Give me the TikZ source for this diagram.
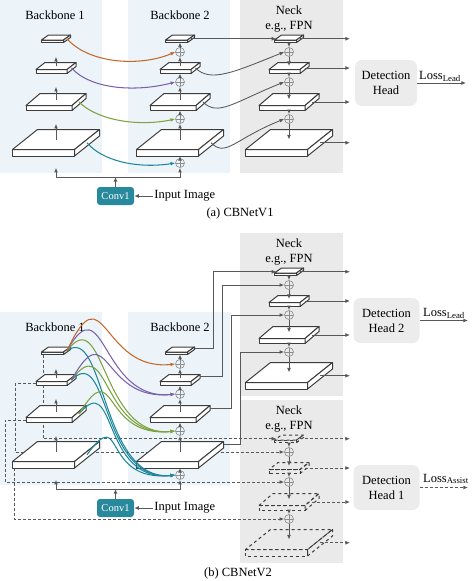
\documentclass[tikz,border=0pt]{standalone}
\usepackage{fontspec}
\setmainfont{Liberation Serif}
\usetikzlibrary{arrows.meta,positioning}

\definecolor{bbblue}{RGB}{236,244,250}
\definecolor{neckgray}{RGB}{234,234,234}
\definecolor{headgray}{RGB}{236,236,236}
\definecolor{convteal}{RGB}{40,137,157}
\definecolor{lineg}{RGB}{88,88,88}
\definecolor{slabg}{RGB}{60,60,60}
\definecolor{plusg}{RGB}{140,140,140}
\definecolor{cOrange}{RGB}{196,104,40}
\definecolor{cPurple}{RGB}{122,98,170}
\definecolor{cGreen}{RGB}{124,163,62}
\definecolor{cTeal}{RGB}{30,134,155}

\pgfdeclarelayer{panel}
\pgfdeclarelayer{wire}
\pgfsetlayers{panel,wire,main}

\tikzset{
  lbl/.style={font=\fontsize{12.5}{15}\selectfont, inner sep=1pt},
  slabline/.style={draw=slabg, line width=1pt, fill=white, line join=round},
  conn/.style={draw=lineg, line width=0.85pt, -{Latex[length=4.6pt,width=3.8pt]}},
  dconn/.style={conn, dash pattern=on 3pt off 2pt},
  curve/.style={conn, draw=#1, line width=1.05pt},
  oplus/.style={circle, draw=plusg, line width=0.6pt, minimum size=9pt, inner sep=0pt,
    path picture={\draw[plusg, line width=0.6pt]
      (path picture bounding box.north) -- (path picture bounding box.south)
      (path picture bounding box.west) -- (path picture bounding box.east);}},
  head/.style={lbl, fill=headgray, rounded corners=7pt, minimum width=62pt,
    minimum height=46pt, align=center},
  convbox/.style={fill=convteal, text=white, rounded corners=3pt, minimum width=37pt,
    minimum height=18pt, inner sep=1pt, font=\fontsize{10.5}{12}\selectfont},
}

% one feature map: [style]{name}{centre x}{front bottom y}{width}{depth x}{depth y}{thickness}
\newcommand{\slab}[8][]{%
  \pgfmathsetmacro\slabx{#3-#5/2-#6/2}%
  \draw[slabline,#1] (\slabx,#4) rectangle ++(#5,-#8);
  \draw[slabline,#1] (\slabx,#4-#8) -- ++(#5,0) -- ++(#6,-#7) -- ++(-#5,0) -- cycle;
  \draw[slabline,#1] (\slabx+#5,#4) -- ++(#6,-#7) -- ++(0,-#8) -- ++(-#6,#7) -- cycle;
  \coordinate (#2-t) at (#3,#4-#8-#7/2);
  \coordinate (#2-b) at (#3,#4);
  \coordinate (#2-r) at (\slabx+#5+#6/2,#4-#8/2-#7/2);
  \coordinate (#2-e) at (\slabx+#5+#6,#4-#8/2-#7);
  \coordinate (#2-w) at (\slabx+#6/4,#4-#8/2-#7/2);
  \coordinate (#2-l) at (\slabx,#4-#8/2);
  \coordinate (#2-bl) at (\slabx+1.5,#4);
}

% the four levels of one column: [style]{prefix}{centre x}{y shift}
\newcommand{\slabcol}[4][]{%
  \slab[#1]{#2-1}{#3}{42.5+#4}{22}{7}{5}{2.5}
  \slab[#1]{#2-2}{#3}{73.5+#4}{31}{9}{7}{4}
  \slab[#1]{#2-3}{#3}{110.5+#4}{46}{14}{12}{5}
  \slab[#1]{#2-4}{#3}{156+#4}{62}{25}{20}{6.5}
}

\begin{document}
\begin{tikzpicture}[x=1pt, y=-1pt]
\useasboundingbox (0,0) rectangle (474,581);

%% (a) CBNetV1
\begin{pgfonlayer}{panel}
  \fill[bbblue] (0,0) rectangle (102,173);
  \fill[bbblue] (128,0) rectangle (230,173);
  \fill[neckgray] (240,0) rectangle (343,173);
\end{pgfonlayer}
\node[lbl] (bb1-a) at (55,15) {Backbone 1};
\node[lbl] (bb2-a) at (180,15) {Backbone 2};
\node[lbl, align=center] (neck-a) at (289,19.5) {Neck\\e.g., FPN};

\slabcol{B1a}{56}{0}
\slabcol{B2a}{180}{0}
\slabcol{Na}{289}{0}

\foreach \i/\y in {1/52,2/82,3/119,4/163}
  \node[oplus] (B2a-p\i) at (180,\y) {};
\foreach \i/\y in {1/52,2/82,3/119}
  \node[oplus] (Na-p\i) at (289,\y) {};

% bottom-up paths
\draw[conn] (B1a-4-t) -- (B1a-4-t |- B2a-p3.south);
\draw[conn] (B1a-3-t) -- (B1a-3-t |- B2a-p2.south);
\draw[conn] (B1a-2-t) -- (B1a-2-t |- B2a-p1.south);
\draw[conn] (B2a-p4) -- (B2a-4-b);
\draw[conn] (B2a-4-t) -- (B2a-p3);
\draw[conn] (B2a-p3) -- (B2a-3-b);
\draw[conn] (B2a-3-t) -- (B2a-p2);
\draw[conn] (B2a-p2) -- (B2a-2-b);
\draw[conn] (B2a-2-t) -- (B2a-p1);
\draw[conn] (B2a-p1) -- (B2a-1-b);

% composition backbone 1 -> backbone 2
\draw[curve=cOrange] (B1a-1-r) .. controls +(22,25) and +(-35,15) .. (B2a-p1.west);
\draw[curve=cPurple] (B1a-2-r) .. controls +(20,22) and +(-38,10) .. (B2a-p2.west);
\draw[curve=cGreen] (B1a-3-r) .. controls +(18,18) and +(-38,8) .. (B2a-p3.west);
\draw[curve=cTeal] (B1a-4-r) .. controls +(15,18) and +(-38,6) .. (B2a-p4.west);

% neck
\draw[conn] (B2a-1-r) -- (B2a-1-r -| Na-1-w);
\draw[conn] (B2a-2-r) .. controls +(15,15) and +(-50,20) .. (Na-p1.west);
\draw[conn] (B2a-3-r) .. controls +(15,15) and +(-50,20) .. (Na-p2.west);
\draw[conn] (B2a-4-r) .. controls +(15,15) and +(-50,20) .. (Na-p3.west);
\draw[conn] (Na-1-b) -- (Na-p1);
\draw[conn] (Na-p1) -- (Na-2-t);
\draw[conn] (Na-2-b) -- (Na-p2);
\draw[conn] (Na-p2) -- (Na-3-t);
\draw[conn] (Na-3-b) -- (Na-p3);
\draw[conn] (Na-p3) -- (Na-4-t);
\coordinate (outx) at (350,0);
\foreach \i in {1,...,4}
  \draw[conn] (Na-\i-r) -- (Na-\i-r -| outx);

\node[head] (head-a) at (386,83) {Detection\\Head};
\node[lbl] (loss-a) at (440,76) {Loss\textsubscript{Lead}};
\coordinate (lend-a) at (466,83);
\draw[conn] (head-a) -- (lend-a);

% stem
\node[convbox] (conv-a) at (115.5,196) {Conv1};
\node[lbl, right=19pt of conv-a] (img-a) {Input Image};
\draw[conn] (img-a.west) -- (conv-a.east);
\coordinate (stem-a) at (115.5,177);
\draw[conn] (conv-a.north) -- (stem-a);
\draw[conn] (stem-a) -| (B2a-p4.south);
\draw[conn] (stem-a) -| (B1a-4-t |- B2a-p4.south);

\node[lbl] (cap-a) at (240,213) {(a) CBNetV1};

%% (b) CBNetV2
\begin{pgfonlayer}{panel}
  \fill[bbblue] (0,312) rectangle (102,485);
  \fill[bbblue] (128,312) rectangle (230,485);
  \fill[neckgray] (240,233) rectangle (343,396);
  \fill[neckgray] (240,400) rectangle (343,563);
\end{pgfonlayer}
\node[lbl] (bb1-b) at (55,327) {Backbone 1};
\node[lbl] (bb2-b) at (180,327) {Backbone 2};
\node[lbl, align=center] (neck-b) at (289,252) {Neck\\e.g., FPN};
\node[lbl, align=center] (neck-c) at (289,419.5) {Neck\\e.g., FPN};

\slabcol{B1b}{56}{312}
\slabcol{B2b}{180}{312}
\slabcol{Nb}{289}{233}
\slabcol[dashed,fill=none]{Nc}{289}{400}

\foreach \i/\y in {1/364,2/394,3/431,4/475}
  \node[oplus] (B2b-p\i) at (180,\y) {};
\foreach \i/\y in {1/285,2/315,3/352}
  \node[oplus] (Nb-p\i) at (289,\y) {};
\foreach \i/\y in {1/452,2/482,3/519}
  \node[oplus] (Nc-p\i) at (289,\y) {};

% assistant paths from backbone 1
\coordinate (dl2) at (15,0);
\coordinate (dl3) at (5,0);
\begin{pgfonlayer}{wire}
  \draw[dconn] (B1b-1-bl) |- (Nc-1-w);
  \draw[dconn] (B1b-2-l) -| (dl2 |- Nc-p1) -- (Nc-p1);
  \draw[dconn] (B1b-3-l) -| (dl3 |- Nc-p2) -- (Nc-p2);
  \draw[dconn] (B1b-4-bl) |- (Nc-p3);
\end{pgfonlayer}

% bottom-up paths
\draw[conn] (B1b-4-t) -- (B1b-4-t |- B2b-p3.south);
\draw[conn] (B1b-3-t) -- (B1b-3-t |- B2b-p2.south);
\draw[conn] (B1b-2-t) -- (B1b-2-t |- B2b-p1.south);
\draw[conn] (B2b-p4) -- (B2b-4-b);
\draw[conn] (B2b-4-t) -- (B2b-p3);
\draw[conn] (B2b-p3) -- (B2b-3-b);
\draw[conn] (B2b-3-t) -- (B2b-p2);
\draw[conn] (B2b-p2) -- (B2b-2-b);
\draw[conn] (B2b-2-t) -- (B2b-p1);
\draw[conn] (B2b-p1) -- (B2b-1-b);

% dense higher-level composition
\foreach \s/\t/\c/\k in {1/4/cTeal/28, 1/3/cGreen/50, 1/2/cPurple/68, 1/1/cOrange/82,
                         2/4/cTeal/38, 2/3/cGreen/52, 2/2/cPurple/68,
                         3/4/cTeal/46, 3/3/cGreen/62, 4/4/cTeal/52}
  \draw[curve=\c] (B1b-\s-r) .. controls +(38,-\k) and +(-75,8) .. (B2b-p\t.west);

% lead neck
\coordinate (lane1) at (213,0);
\coordinate (lane2) at (222,0);
\coordinate (lane3) at (231,0);
\coordinate (lane4) at (240,0);
\draw[conn] (B2b-1-e) -| (lane1 |- Nb-1-w) -- (Nb-1-w);
\draw[conn] (B2b-2-e) -| (lane2 |- Nb-p1) -- (Nb-p1);
\draw[conn] (B2b-3-e) -| (lane3 |- Nb-p2) -- (Nb-p2);
\draw[conn] (B2b-4-e) -| (lane4 |- Nb-p3) -- (Nb-p3);
\draw[conn] (Nb-1-b) -- (Nb-p1);
\draw[conn] (Nb-p1) -- (Nb-2-t);
\draw[conn] (Nb-2-b) -- (Nb-p2);
\draw[conn] (Nb-p2) -- (Nb-3-t);
\draw[conn] (Nb-3-b) -- (Nb-p3);
\draw[conn] (Nb-p3) -- (Nb-4-t);
\foreach \i in {1,...,4}
  \draw[conn] (Nb-\i-r) -- (Nb-\i-r -| outx);

% assistant neck
\draw[conn] (Nc-1-b) -- (Nc-p1);
\draw[conn] (Nc-p1) -- (Nc-2-t);
\draw[conn] (Nc-2-b) -- (Nc-p2);
\draw[conn] (Nc-p2) -- (Nc-3-t);
\draw[conn] (Nc-3-b) -- (Nc-p3);
\draw[conn] (Nc-p3) -- (Nc-4-t);
\foreach \i in {1,...,4}
  \draw[dconn] (Nc-\i-r) -- (Nc-\i-r -| outx);

\node[head, minimum width=66pt, minimum height=45pt] (head-b) at (386.5,320.5) {Detection\\Head 2};
\node[lbl] (loss-b) at (444,313) {Loss\textsubscript{Lead}};
\coordinate (lend-b) at (468,320.5);
\draw[conn] (head-b) -- (lend-b);

\node[head, minimum width=66pt, minimum height=45pt] (head-c) at (386.5,487.5) {Detection\\Head 1};
\node[lbl] (loss-c) at (446,479) {Loss\textsubscript{Assist}};
\coordinate (lend-c) at (468,487.5);
\draw[dconn] (head-c) -- (lend-c);

% stem
\node[convbox] (conv-b) at (115.5,508) {Conv1};
\node[lbl, right=19pt of conv-b] (img-b) {Input Image};
\draw[conn] (img-b.west) -- (conv-b.east);
\coordinate (stem-b) at (115.5,489);
\draw[conn] (conv-b.north) -- (stem-b);
\draw[conn] (stem-b) -| (B2b-p4.south);
\draw[conn] (stem-b) -| (B1b-4-t |- B2b-p4.south);

\node[lbl] (cap-b) at (238,573) {(b) CBNetV2};
\end{tikzpicture}
\end{document}
